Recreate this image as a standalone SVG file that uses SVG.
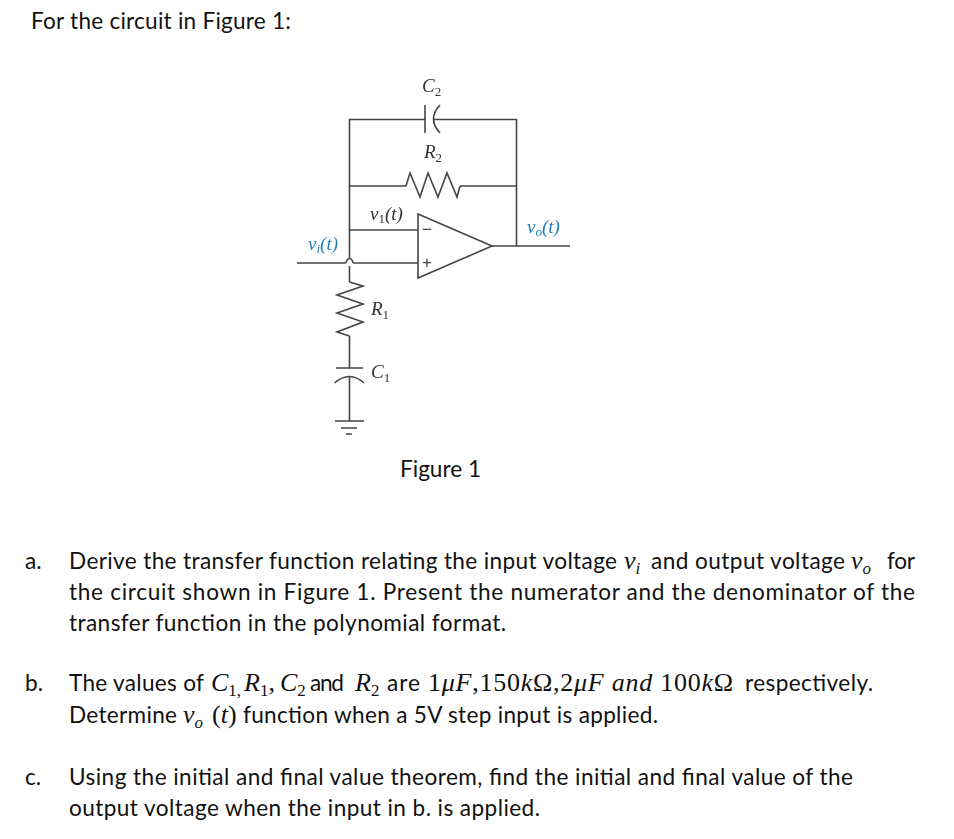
<svg xmlns="http://www.w3.org/2000/svg" width="954" height="839" viewBox="0 0 954 839">
<defs><filter id="soft" x="-5%" y="-5%" width="110%" height="110%"><feGaussianBlur stdDeviation="0.45"/></filter></defs>
<style>
.t{font-family:"Lato","Carlito","Liberation Sans",sans-serif;font-size:22.6px;fill:#111}
.m{font-family:"Liberation Serif","DejaVu Serif",serif;font-size:26px;fill:#111}
.mi{font-style:italic}
.s{font-size:17px}
.w{fill:none;stroke:#444;stroke-width:1.6;stroke-linejoin:miter}
.l{font-family:"Liberation Serif","DejaVu Serif",serif;font-style:italic;font-size:19px;fill:#333}
.b{fill:#1f80c0}
.ls{font-size:13px}
.g{font-family:"Liberation Sans",sans-serif;font-size:17px;fill:#444}
</style>
<rect width="954" height="839" fill="#fff"/>
<text class="t" x="31" y="29" textLength="260">For the circuit in Figure 1:</text>

<g filter="url(#soft)">
<g id="connectors">
<path class="w" d="M425 119.500H349.500V258M349.500 266V282"/>
<path class="w" d="M433.500 119.500H516.500V246"/>
<path class="w" d="M349.500 186H406M460 186H516.500"/>
<path class="w" d="M349.500 230H418"/>
<path class="w" d="M297 263H345Q346 263 346.500 261Q347.500 258.500 349.500 258.500Q351.500 258.500 352.500 261Q353 263 354 263H418"/>
<path class="w" d="M492 246H570"/>
<path class="w" d="M349.500 336V368M349.500 377V421"/>
</g>
<g id="C2">
<path class="w" d="M425 105V133M440 105Q427 119 440 133"/>
<text class="l" x="422" y="92">C<tspan class="ls" dy="4" font-style="normal">2</tspan></text>
</g>
<g id="R2">
<path class="w" d="M406 186L410 173L420 197L428 173L438 197L447 173L457 197L460 186"/>
<text class="l" x="424" y="158">R<tspan class="ls" dy="4" font-style="normal">2</tspan></text>
</g>
<g id="opamp">
<path class="w" d="M418 214V278L492 246Z"/>
<text class="g" x="422" y="235">−</text>
<text class="g" x="422" y="268">+</text>
</g>
<g id="R1">
<path class="w" d="M349.500 282L363 286L337 295L363 304L337 313L363 322L337 332L349.500 336"/>
<text class="l" x="371" y="315">R<tspan class="ls" dy="4" font-style="normal">1</tspan></text>
</g>
<g id="C1">
<path class="w" d="M336 368H363M334.500 383Q349.500 370 364 383"/>
<text class="l" x="371" y="378">C<tspan class="ls" dy="4" font-style="normal">1</tspan></text>
</g>
<g id="ground">
<path class="w" d="M335 421H364M341 428H357M346 434H352"/>
</g>
<g id="v1-label"><text class="l" x="370" y="220">v<tspan class="ls" dy="3" font-style="normal">1</tspan><tspan dy="-3">(t)</tspan></text></g>
<g id="vi-label"><text class="l b" x="308" y="250">v<tspan class="ls" dy="3">i</tspan><tspan dy="-3">(t)</tspan></text></g>
<g id="vo-label"><text class="l b" x="527" y="233">v<tspan class="ls" dy="3">o</tspan><tspan dy="-3">(t)</tspan></text></g>
</g>

<text class="t" x="400" y="477" textLength="81">Figure 1</text>

<text class="t" x="25" y="569">a.</text>
<text class="t" x="69" y="569" textLength="548">Derive the transfer function relating the input voltage</text>
<text class="m mi" x="624" y="569">v<tspan class="s" dy="5">i</tspan></text>
<text class="t" x="651" y="569" textLength="194">and output voltage</text>
<text class="m mi" x="851" y="569">v<tspan class="s" dy="5">o</tspan></text>
<text class="t" x="887" y="569" textLength="28">for</text>
<text class="t" x="69" y="600" textLength="846">the circuit shown in Figure 1. Present the numerator and the denominator of the</text>
<text class="t" x="69" y="631" textLength="437">transfer function in the polynomial format.</text>

<text class="t" x="25" y="691">b.</text>
<text class="t" x="69" y="691" textLength="135">The values of</text>
<text class="m mi" x="211" y="691">C<tspan class="s" dy="5" font-style="normal">1,</tspan></text>
<text class="m mi" x="244" y="691">R<tspan class="s" dy="5" font-style="normal">1</tspan><tspan dy="-5" font-style="normal">,</tspan></text>
<text class="m mi" x="280" y="691">C<tspan class="s" dy="5" font-style="normal">2</tspan></text>
<text class="t" x="310" y="691" textLength="34">and</text>
<text class="m mi" x="355" y="691">R<tspan class="s" dy="5" font-style="normal">2</tspan></text>
<text class="t" x="387" y="691" textLength="33">are</text>
<text class="m" x="428" y="691" textLength="305">1<tspan class="mi">μF</tspan>,150<tspan class="mi">k</tspan>Ω,2<tspan class="mi">μF and</tspan> 100<tspan class="mi">k</tspan>Ω</text>
<text class="t" x="745" y="691" textLength="128">respectively.</text>
<text class="t" x="69" y="723" textLength="108">Determine</text>
<text class="m mi" x="183" y="723">v<tspan class="s" dy="5">o</tspan></text>
<text class="m" x="212" y="723">(<tspan class="mi">t</tspan>)</text>
<text class="t" x="243" y="723" textLength="415">function when a 5V step input is applied.</text>

<text class="t" x="25" y="785">c.</text>
<text class="t" x="69" y="785" textLength="784">Using the initial and final value theorem, find the initial and final value of the</text>
<text class="t" x="69" y="816" textLength="471">output voltage when the input in b. is applied.</text>
</svg>
